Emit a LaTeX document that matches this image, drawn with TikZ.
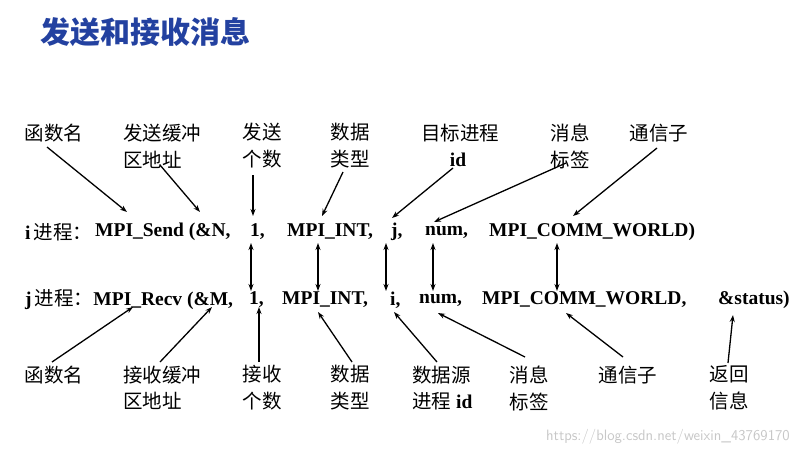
\documentclass[tikz,border=0pt]{standalone}
\usepackage{fontspec}
\setmainfont{Liberation Serif}
\newfontfamily\cj{Noto Sans CJK SC}
\usetikzlibrary{arrows.meta}
\begin{document}
\begin{tikzpicture}[x=1pt,y=-1pt,
  lab/.style={inner sep=0pt,font=\fontsize{19.5}{27}\selectfont\bfseries,align=center},
  cl/.style={inner sep=0pt,font=\fontsize{19.5}{27}\selectfont\cj,align=center},
  arr/.style={line width=1.3pt,-{Stealth[length=7pt,width=5pt]}},
  darr/.style={line width=1.3pt,{Stealth[length=7pt,width=5pt]}-{Stealth[length=7pt,width=5pt]}}]
\useasboundingbox (0,0) rectangle (798,456);
\node[anchor=west,inner sep=0pt,font=\fontsize{30}{34}\selectfont\cj\bfseries,text={rgb,255:red,35;green,65;blue,160}] (title) at (40,32) {发送和接收消息};
% top labels
\node[cl] (t1) at (54,133) {函数名};
\node[cl,anchor=west] (t2) at (123,133) {发送缓冲};
\node[cl,anchor=west] (t2b) at (123,160) {区地址};
\node[cl] (t3) at (262,146) {发送\\个数};
\node[cl] (t4) at (350,146) {数据\\类型};
\node[cl] (t5) at (460,133) {目标进程};
\node[lab] (t5b) at (458,160) {id};
\node[cl] (t6) at (570,146) {消息\\标签};
\node[cl] (t7) at (659,133) {通信子};
% i row
\node[lab,anchor=west] (i0) at (25,232) {i\,{\mdseries\cj 进程：}};
\node[lab,anchor=west] (i1) at (95,232) {MPI\_Send (\&N,};
\node[lab,anchor=west] (i2) at (250,232) {1,};
\node[lab,anchor=west] (i3) at (287,232) {MPI\_INT,};
\node[lab,anchor=west] (i4) at (391,232) {j,};
\node[lab,anchor=west] (i5) at (425,232) {num,};
\node[lab,anchor=west] (i6) at (489,232) {MPI\_COMM\_WORLD)};
% j row
\node[lab,anchor=west] (j0) at (25,300) {j\,{\mdseries\cj 进程：}MPI\_Recv (\&M,};
\node[lab,anchor=west] (j2) at (249,300) {1,};
\node[lab,anchor=west] (j3) at (282,300) {MPI\_INT,};
\node[lab,anchor=west] (j4) at (390,300) {i,};
\node[lab,anchor=west] (j5) at (419,300) {num,};
\node[lab,anchor=west] (j6) at (482,300) {MPI\_COMM\_WORLD,};
\node[lab,anchor=west] (j7) at (718,300) {\&status)};
% bottom labels
\node[cl] (b1) at (54,375) {函数名};
\node[cl,anchor=west] (b2) at (123,375) {接收缓冲};
\node[cl,anchor=west] (b2b) at (123,401) {区地址};
\node[cl] (b3) at (262,388) {接收\\个数};
\node[cl] (b4) at (350,388) {数据\\类型};
\node[cl,anchor=west] (b5) at (412,375) {数据源};
\node[anchor=west,inner sep=0pt,font=\fontsize{19.5}{27}\selectfont] (b5b) at (412,401) {{\cj 进程} \textbf{id}};
\node[cl] (b6) at (529,388) {消息\\标签};
\node[cl] (b7) at (628,375) {通信子};
\node[cl] (b8) at (729,388) {返回\\信息};
\node[anchor=east,inner sep=0pt,font=\fontsize{15}{17}\selectfont\sffamily,text=black!22] (wm) at (790,437) {https://blog.csdn.net/weixin\_43769170};
% arrow endpoints
\coordinate (a1s) at (47,147); \coordinate (a1e) at (127,212);
\coordinate (a2s) at (160,165); \coordinate (a2e) at (200,212);
\coordinate (a3s) at (253,175); \coordinate (a3e) at (253,216);
\coordinate (a4s) at (343,172); \coordinate (a4e) at (322,216);
\coordinate (a5s) at (453,168); \coordinate (a5e) at (392,218);
\coordinate (a6s) at (566,163); \coordinate (a6e) at (434,222);
\coordinate (a7s) at (657,148); \coordinate (a7e) at (573,216);
\draw[arr] (a1s) -- (a1e);
\draw[arr] (a2s) -- (a2e);
\draw[arr] (a3s) -- (a3e);
\draw[arr] (a4s) -- (a4e);
\draw[arr] (a5s) -- (a5e);
\draw[arr] (a6s) -- (a6e);
\draw[arr] (a7s) -- (a7e);
\foreach \n/\x in {d1/251,d2/318,d3/386,d4/433,d5/557}{
  \coordinate (\n s) at (\x,243); \coordinate (\n e) at (\x,291);
  \draw[darr] (\n s) -- (\n e);}
\coordinate (c1s) at (52,362); \coordinate (c1e) at (133,307);
\coordinate (c2s) at (160,362); \coordinate (c2e) at (212,307);
\coordinate (c3s) at (259,362); \coordinate (c3e) at (259,307);
\coordinate (c4s) at (352,362); \coordinate (c4e) at (318,312);
\coordinate (c5s) at (437,362); \coordinate (c5e) at (394,312);
\coordinate (c6s) at (525,357); \coordinate (c6e) at (438,313);
\coordinate (c7s) at (623,357); \coordinate (c7e) at (566,313);
\coordinate (c8s) at (728,363); \coordinate (c8e) at (733,315);
\foreach \n in {c1,c2,c3,c4,c5,c6,c7,c8}{\draw[arr] (\n s) -- (\n e);}
\end{tikzpicture}
\end{document}
